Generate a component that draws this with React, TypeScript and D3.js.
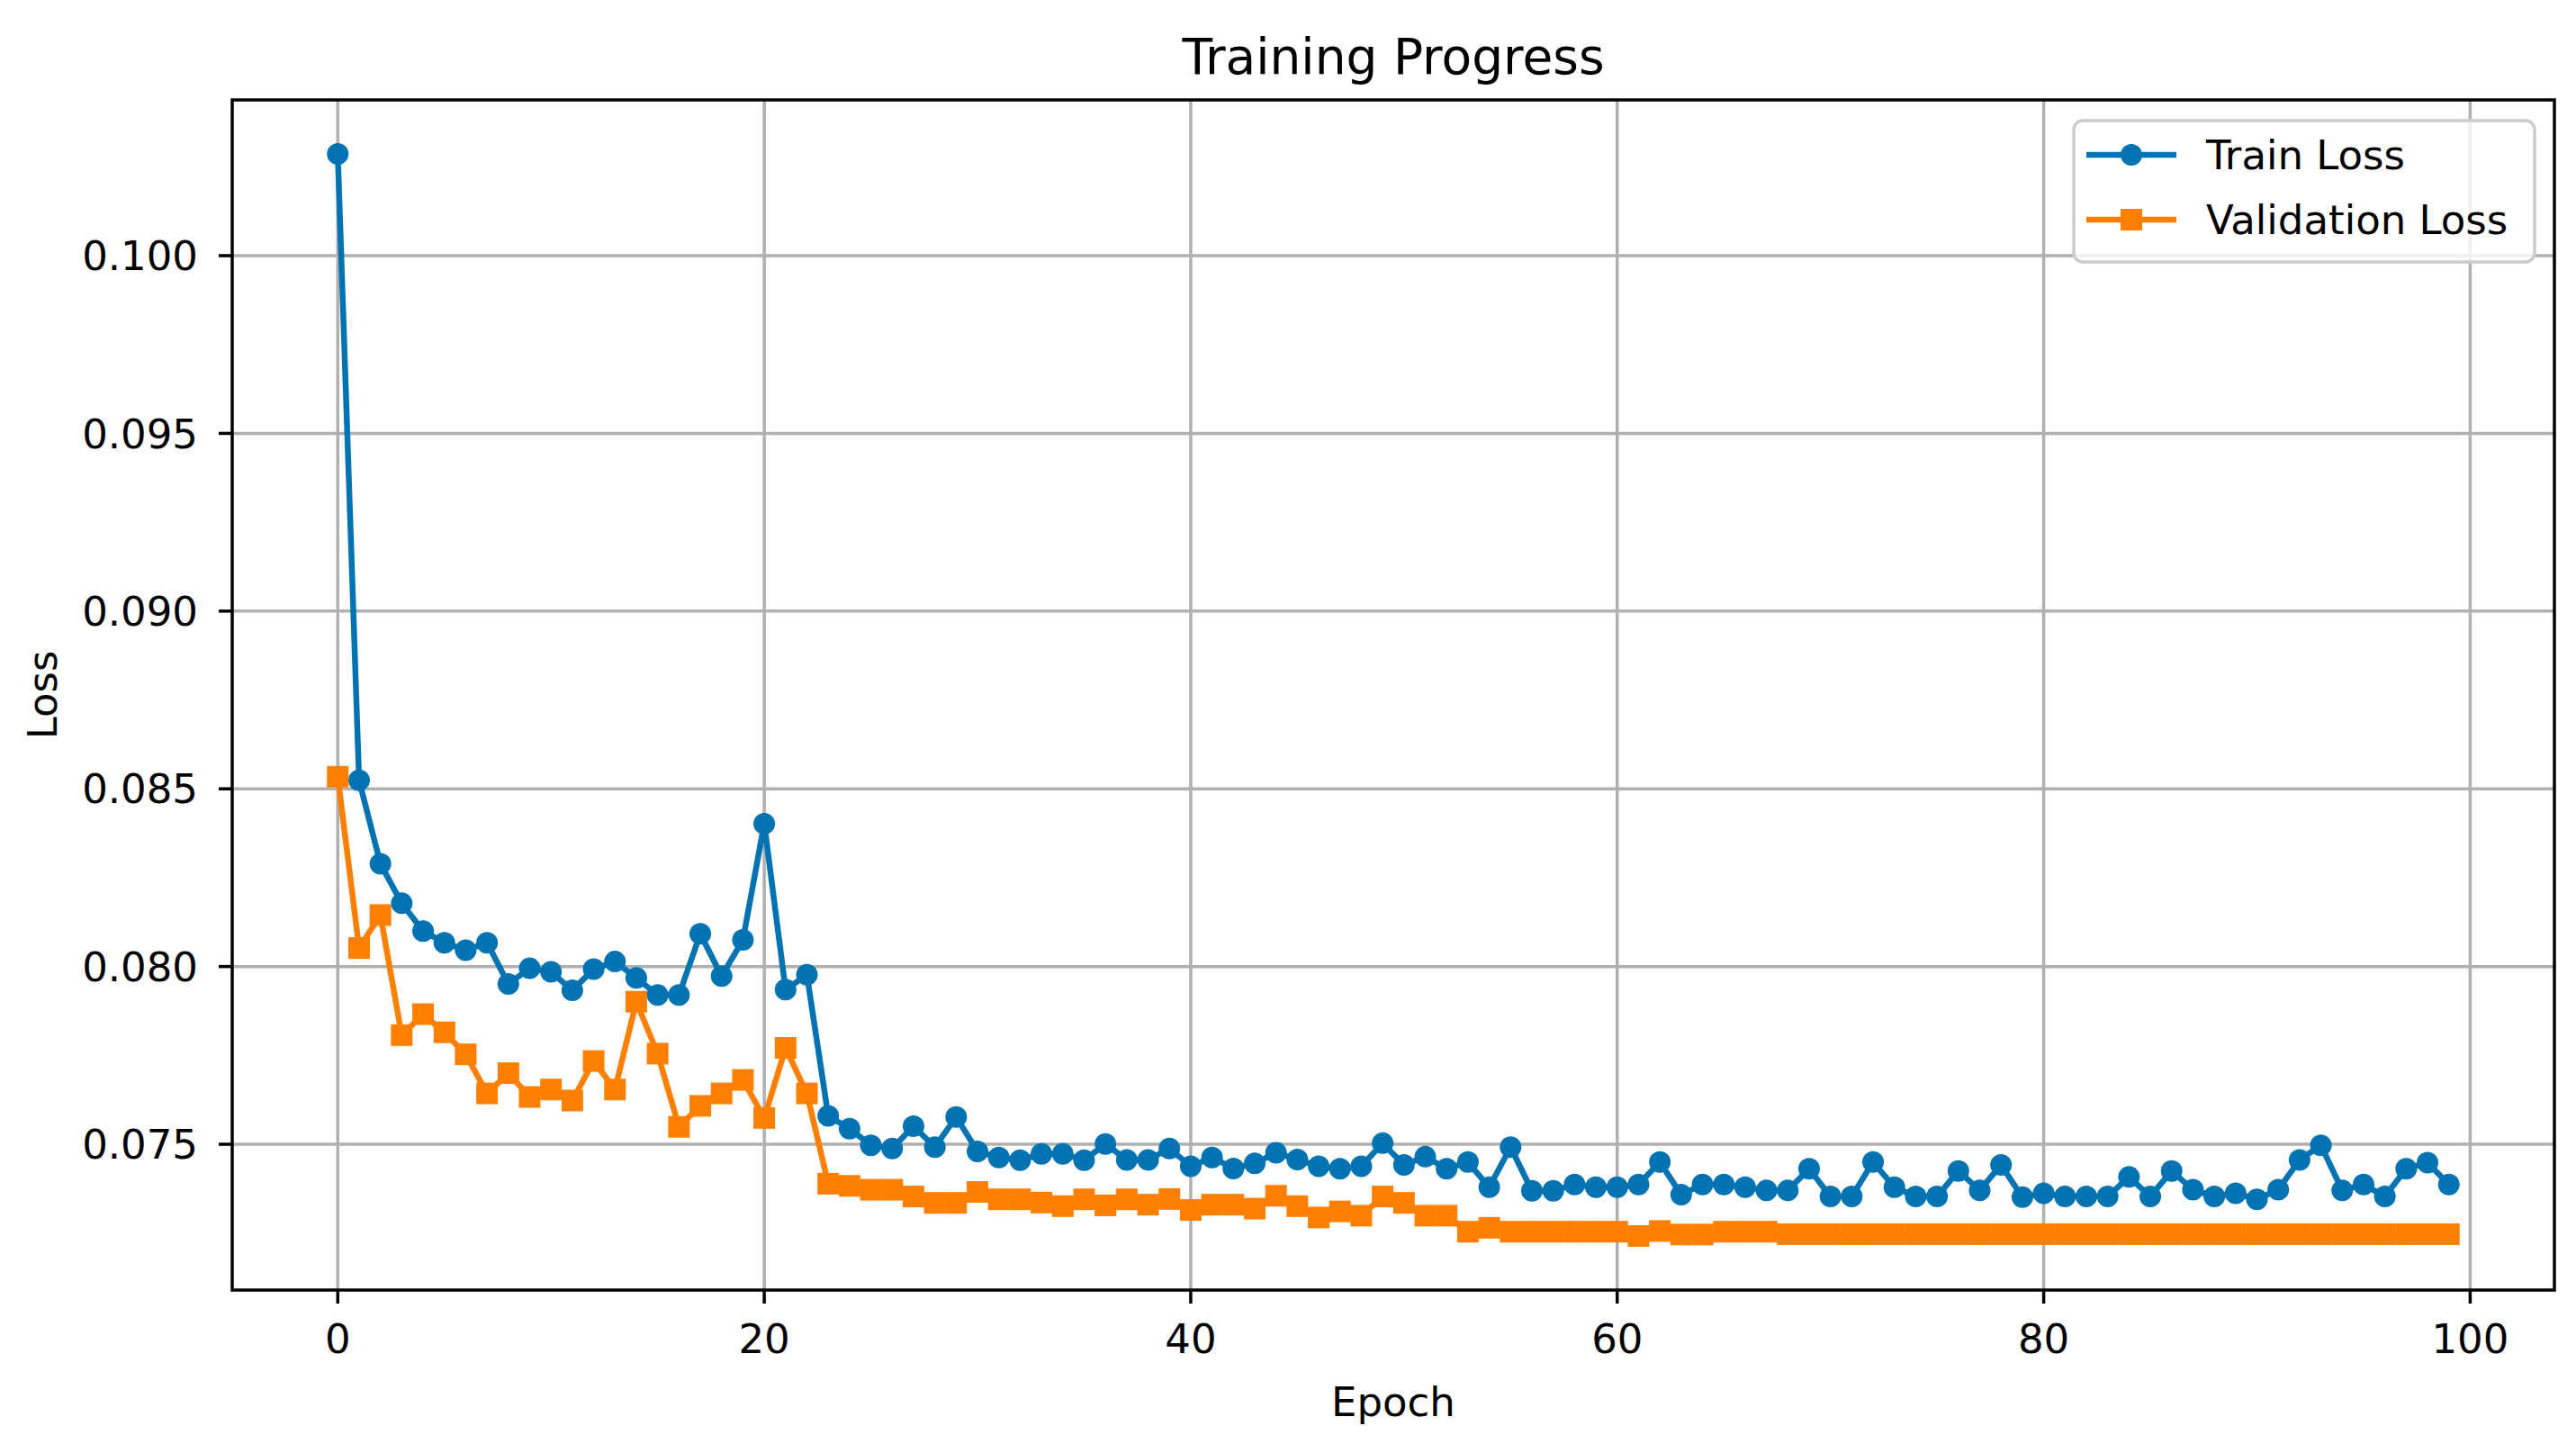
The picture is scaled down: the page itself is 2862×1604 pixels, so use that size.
import React, { useEffect } from "react";
import * as d3 from "d3";

const epochs: number[] = d3.range(0, 100);

const trainLoss: number[] = [
  0.10286, 0.08524, 0.08289, 0.08178, 0.081, 0.08067, 0.08046, 0.08067, 0.07951, 0.07995,
  0.07985, 0.07933, 0.07993, 0.08014, 0.07968, 0.0792, 0.0792, 0.08092, 0.07973, 0.08075,
  0.08402, 0.07935, 0.07977, 0.0758, 0.07544, 0.07497, 0.07488, 0.07551, 0.07492, 0.07577,
  0.0748, 0.07463, 0.07455, 0.07473, 0.07473, 0.07455, 0.07501, 0.07456, 0.07456, 0.07488,
  0.07438, 0.07463, 0.07432, 0.07446, 0.07476, 0.07457, 0.07438, 0.07431, 0.07438, 0.07503,
  0.07442, 0.07465, 0.07431, 0.0745, 0.07379, 0.07492, 0.07369, 0.07369, 0.07387, 0.07379,
  0.07379, 0.07387, 0.0745, 0.07358, 0.07387, 0.07387, 0.07379, 0.0737, 0.0737, 0.07431,
  0.07353, 0.07353, 0.0745, 0.07379, 0.07353, 0.07353, 0.07425, 0.0737, 0.07442, 0.07351,
  0.07362, 0.07353, 0.07353, 0.07353, 0.07408, 0.07353, 0.07425, 0.07372, 0.07353, 0.07362,
  0.07345, 0.07372, 0.07456, 0.07497, 0.0737, 0.07387, 0.07353, 0.07431, 0.07448, 0.07387,
];

const valLoss: number[] = [
  0.08534, 0.08052, 0.08145, 0.07807, 0.07866, 0.07815, 0.07753, 0.07643, 0.077, 0.07633,
  0.07654, 0.07623, 0.07734, 0.07654, 0.07901, 0.07755, 0.07549, 0.07608, 0.07643, 0.07681,
  0.07574, 0.07771, 0.07643, 0.07389, 0.07383, 0.07372, 0.07372, 0.07353, 0.07335, 0.07335,
  0.07366, 0.07345, 0.07345, 0.07336, 0.07326, 0.07345, 0.07328, 0.07345, 0.0733, 0.07346,
  0.07315, 0.0733, 0.0733, 0.07319, 0.07355, 0.07326, 0.07294, 0.07311, 0.07299, 0.07353,
  0.07335, 0.07299, 0.07299, 0.07254, 0.07265, 0.07254, 0.07254, 0.07254, 0.07254, 0.07254,
  0.07254, 0.07242, 0.07256, 0.07246, 0.07246, 0.07254, 0.07254, 0.07254, 0.07247, 0.07247,
  0.07247, 0.07247, 0.07247, 0.07247, 0.07247, 0.07247, 0.07247, 0.07247, 0.07247, 0.07247,
  0.07247, 0.07247, 0.07247, 0.07247, 0.07247, 0.07247, 0.07247, 0.07247, 0.07247, 0.07247,
  0.07247, 0.07247, 0.07247, 0.07247, 0.07247, 0.07247, 0.07247, 0.07247, 0.07247, 0.07247,
];

const xTicks: number[] = [0, 20, 40, 60, 80, 100];
const yTicks: number[] = [0.075, 0.08, 0.085, 0.09, 0.095, 0.1];
const seriesNames: string[] = ["Train Loss", "Validation Loss"];
const seriesColors: string[] = ["#0173b2", "#ff8000"];

const W = 2862;
const H = 1604;
const left = 258;
const right = 2838;
const top = 111;
const bottom = 1433;
const FONT = "'DejaVu Sans', sans-serif";

export default function App() {
  useEffect(() => {
    document.body.style.margin = "0";
  }, []);

  const xMin = d3.min(epochs)!;
  const xMax = d3.max(epochs)!;
  const xPad = (xMax - xMin) * 0.05;
  const x = d3.scaleLinear().domain([xMin - xPad, xMax + xPad]).range([left, right]);

  const all = trainLoss.concat(valLoss);
  const yMin = d3.min(all)!;
  const yMax = d3.max(all)!;
  const yPad = (yMax - yMin) * 0.05;
  const y = d3.scaleLinear().domain([yMin - yPad, yMax + yPad]).range([bottom, top]);

  const line = d3
    .line<number>()
    .x((_, i) => x(epochs[i]))
    .y((d) => y(d));

  const gridColor = "#b0b0b0";
  const lw = 6.5;
  const mr = 12;
  const ms = 24;

  return (
    <svg
      width={W}
      height={H}
      style={{ position: "absolute", left: 0, top: 0, background: "#fff" }}
      fontFamily={FONT}
    >
      <rect x={0} y={0} width={W} height={H} fill="#fff" />
      {/* grid */}
      {xTicks.map((t) => (
        <line key={"gx" + t} x1={x(t)} x2={x(t)} y1={top} y2={bottom} stroke={gridColor} strokeWidth={3.5} />
      ))}
      {yTicks.map((t) => (
        <line key={"gy" + t} x1={left} x2={right} y1={y(t)} y2={y(t)} stroke={gridColor} strokeWidth={3.5} />
      ))}
      {/* train */}
      <path d={line(trainLoss)!} fill="none" stroke={seriesColors[0]} strokeWidth={lw} strokeLinejoin="round" />
      {trainLoss.map((v, i) => (
        <circle key={"t" + i} cx={x(epochs[i])} cy={y(v)} r={mr} fill={seriesColors[0]} />
      ))}
      {/* validation */}
      <path d={line(valLoss)!} fill="none" stroke={seriesColors[1]} strokeWidth={lw} strokeLinejoin="round" />
      {valLoss.map((v, i) => (
        <rect key={"v" + i} x={x(epochs[i]) - ms / 2} y={y(v) - ms / 2} width={ms} height={ms} fill={seriesColors[1]} />
      ))}
      {/* spines */}
      <rect x={left} y={top} width={right - left} height={bottom - top} fill="none" stroke="#000" strokeWidth={3.5} />
      {/* x ticks */}
      {xTicks.map((t) => (
        <g key={"xt" + t}>
          <line x1={x(t)} x2={x(t)} y1={bottom} y2={bottom + 15} stroke="#000" strokeWidth={3.5} />
          <text x={x(t)} y={1503} textAnchor="middle" fontSize={45} fill="#000">
            {t}
          </text>
        </g>
      ))}
      {/* y ticks */}
      {yTicks.map((t) => (
        <g key={"yt" + t}>
          <line x1={left - 15} x2={left} y1={y(t)} y2={y(t)} stroke="#000" strokeWidth={3.5} />
          <text x={left - 38} y={y(t)} dy="0.36em" textAnchor="end" fontSize={45} fill="#000">
            {d3.format(".3f")(t)}
          </text>
        </g>
      ))}
      {/* labels */}
      <text x={(left + right) / 2} y={1573} textAnchor="middle" fontSize={45} fill="#000">
        Epoch
      </text>
      <text
        transform={`translate(63, ${(top + bottom) / 2}) rotate(-90)`}
        textAnchor="middle"
        fontSize={45}
        fill="#000"
      >
        Loss
      </text>
      <text x={(left + right) / 2} y={82} textAnchor="middle" fontSize={55} fill="#000">
        Training Progress
      </text>
      {/* legend */}
      <rect x={2304} y={134} width={512} height={157} rx={10} fill="#fff" fillOpacity={0.8} stroke="#cccccc" strokeWidth={3.5} />
      {seriesNames.map((name, i) => {
        const ly = 172 + i * 72;
        return (
          <g key={name}>
            <line x1={2318} x2={2418} y1={ly} y2={ly} stroke={seriesColors[i]} strokeWidth={lw} />
            {i === 0 ? (
              <circle cx={2368} cy={ly} r={mr} fill={seriesColors[i]} />
            ) : (
              <rect x={2368 - ms / 2} y={ly - ms / 2} width={ms} height={ms} fill={seriesColors[i]} />
            )}
            <text x={2451} y={ly} dy="0.36em" fontSize={45} fill="#000">
              {name}
            </text>
          </g>
        );
      })}
    </svg>
  );
}
